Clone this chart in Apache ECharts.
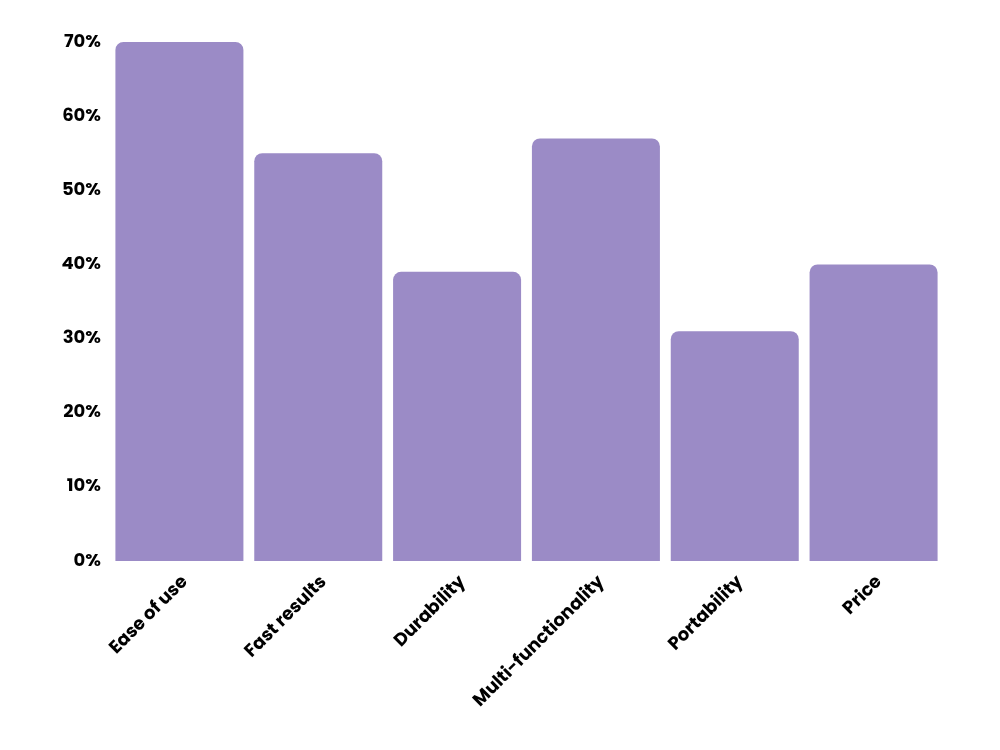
<!DOCTYPE html>
<html><head><meta charset="utf-8">
<script src="https://cdn.jsdelivr.net/npm/echarts@6/dist/echarts.min.js"></script>
<style>html,body{margin:0;padding:0;background:#fff}#c{width:1000px;height:750px}</style>
</head><body><div id="c"></div>
<script>
const categories = ["Ease of use", "Fast results", "Durability", "Multi-functionality", "Portability", "Price"];
const values = [70, 55, 39, 57, 31, 40];
const yTicks = [0, 10, 20, 30, 40, 50, 60, 70];

const chart = echarts.init(document.getElementById('c'));
chart.setOption({
  animation: false,
  backgroundColor: '#ffffff',
  grid: { left: 110, right: 57, top: 42, bottom: 189 },
  xAxis: {
    type: 'category',
    data: categories,
    axisLine: { show: false },
    axisTick: { show: false },
    axisLabel: {
      rotate: 45, interval: 0, margin: 24, padding: [0, -8, 0, 0],
      color: '#000', fontFamily: 'Poppins, Inter, sans-serif', fontWeight: 'bold', fontSize: 18
    }
  },
  yAxis: {
    type: 'value', min: 0, max: 70, interval: 10,
    splitLine: { show: false },
    axisLine: { show: false },
    axisTick: { show: false },
    axisLabel: {
      margin: 9, color: '#000', fontFamily: 'Poppins, Inter, sans-serif', fontWeight: 'bold', fontSize: 18,
      formatter: v => yTicks.includes(v) ? v + '%' : ''
    }
  },
  series: [{
    type: 'bar',
    data: values,
    barWidth: 128,
    itemStyle: { color: '#9b8bc6', borderRadius: [8, 8, 0, 0] }
  }]
});
</script></body></html>
